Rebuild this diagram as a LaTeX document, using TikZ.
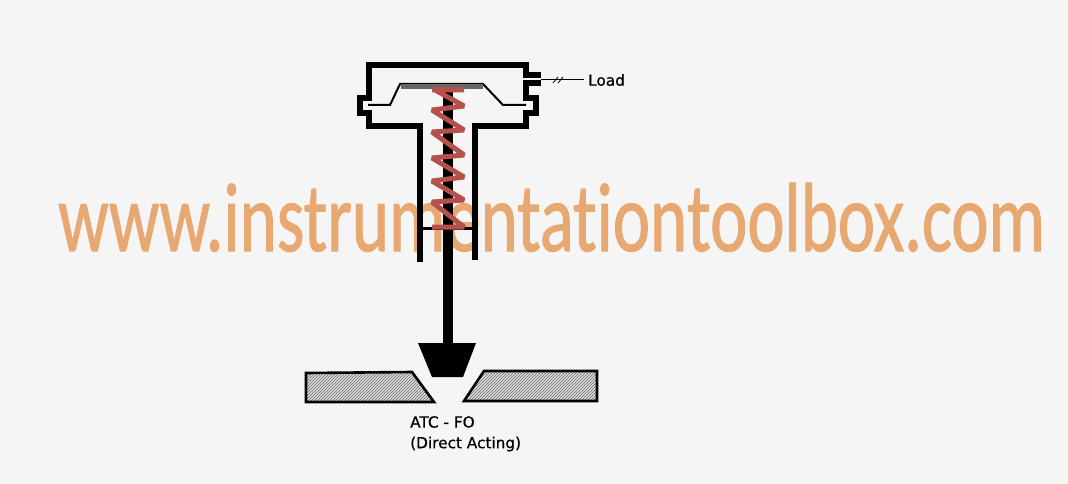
\documentclass[tikz,border=0pt]{standalone}
\usetikzlibrary{patterns}
\usepackage{fontspec}
\setmainfont[FakeBold=0.6]{DejaVu Sans}
\newfontfamily\wmfont[FakeBold=1.2]{Carlito}
\definecolor{bgc}{HTML}{F5F5F5}
\definecolor{springc}{HTML}{B5504C}
\definecolor{wmc}{HTML}{E8A871}
\tikzset{
 heavy/.style={line width=6pt,black,line join=miter},
 thinln/.style={line width=2pt,black},
 seat/.style={draw=black,line width=2.6pt,line join=miter,pattern=north east lines,pattern color=gray!80!black,preaction={fill=gray!25}},
 lbl/.style={inner sep=0pt,anchor=west,font=\fontsize{15.3}{18}\selectfont,text=black},
}
\begin{document}
\begin{tikzpicture}[x=1pt,y=-1pt]
\useasboundingbox (0,0) rectangle (1068,484);
\fill[bgc] (0,0) rectangle (1068,484);
\node[inner sep=0pt,anchor=base west,text=wmc] (wm) at (58,251) {\resizebox{987pt}{\height}{\wmfont\fontsize{98}{110}\selectfont www.instrumentat\kern0pt ion\kern0pt toolbox.com}};
% housing
\draw[heavy] (360,98) -- (369,98) -- (369,65) -- (525.5,65) -- (525.5,78);
\draw[heavy] (523,75.5) -- (541,75.5);
\draw[heavy] (523,83.5) -- (541,83.5);
\draw[heavy] (525.5,83.5) -- (525.5,98) -- (536,98) -- (536,113) -- (525.5,113) -- (525.5,126) -- (475,126) -- (475,260);
\draw[heavy] (360,95) -- (360,113) -- (369,113) -- (369,126) -- (420,126) -- (420,262);
\draw[thinln] (368,105) -- (390,105) -- (400,84) -- (483,84) -- (503,105) -- (526,105);
\fill[gray!80!black] (401,84) rectangle (483,89);
\draw[line width=3pt] (420,228) -- (474,228);
% stem
\fill[black] (443,90) rectangle (453,345);
\fill[black] (418,343) -- (476,343) -- (463,377) -- (432,377) -- cycle;
% spring
\draw[springc,line width=5pt,line join=bevel] (432,90) -- (464,90) (435,90) -- (464,106) -- (432,110) -- (464,130) -- (432,132) -- (464,155) -- (432,158) -- (464,177) -- (432,181) -- (464,200) -- (432,202) -- (464,227) -- (432,227);
% seats
\draw[seat] (306,373) -- (412,372) -- (434,402) -- (306,402) -- cycle;
\draw[seat] (484,371) -- (597,371) -- (597,401) -- (464,401) -- cycle;
% load
\coordinate (loadst) at (541,80);
\node[lbl] (load) at (588,80) {Load};
\draw[line width=1pt] (loadst) -- ([xshift=-4pt]load.west);
\draw[line width=.8pt] (553,83) -- (558,77) (558,83) -- (563,77);
\node[lbl] (atc) at (410,422) {ATC - FO};
\node[lbl] (da) at (410,444) {(Direct Acting)};
\end{tikzpicture}
\end{document}
